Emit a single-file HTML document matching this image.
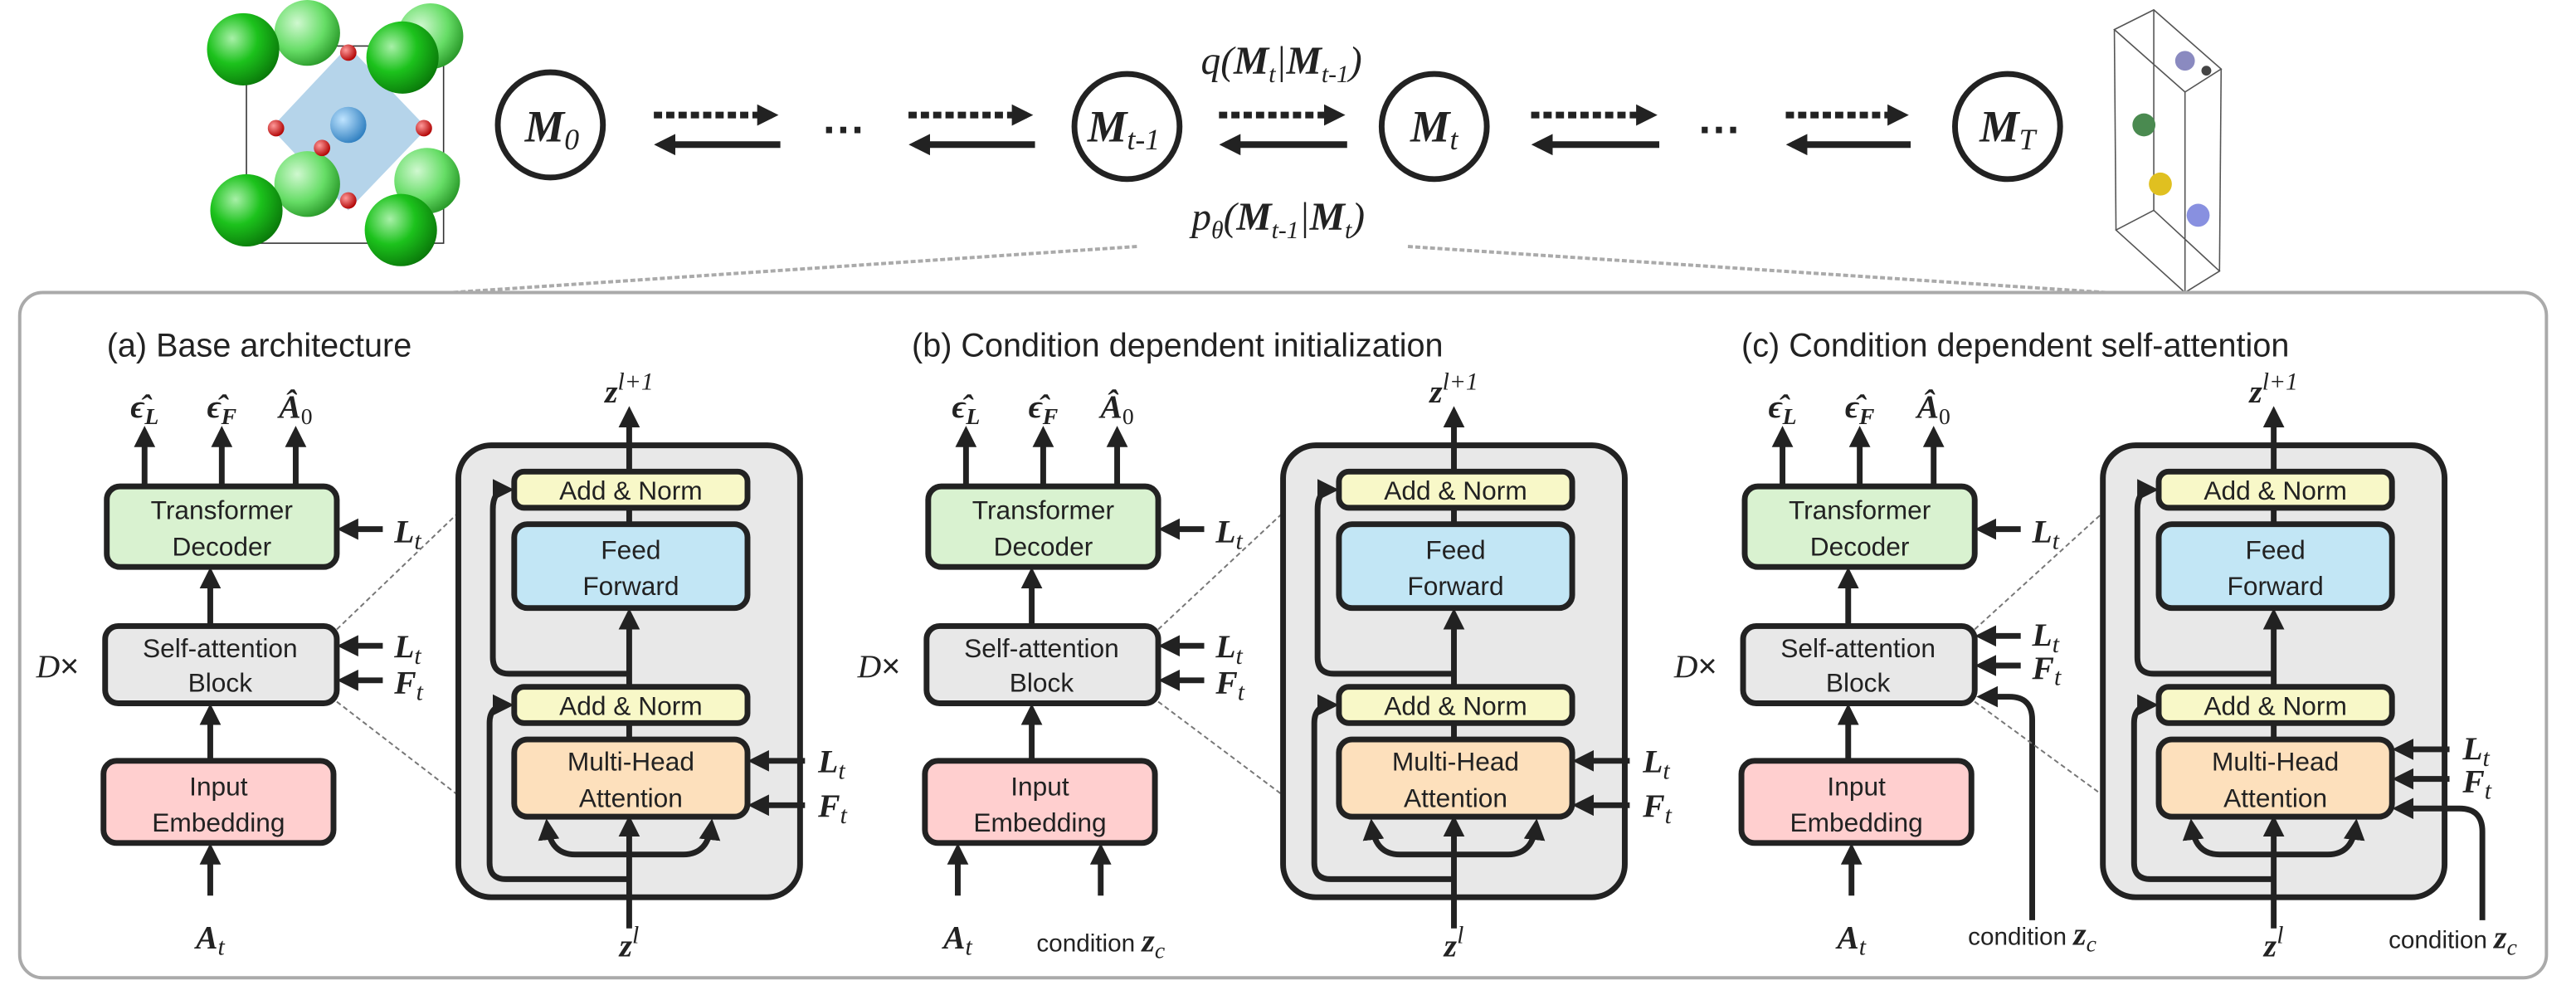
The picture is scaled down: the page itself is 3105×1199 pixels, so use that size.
<!DOCTYPE html>
<html><head><meta charset="utf-8"><style>
html,body{margin:0;padding:0;background:#fff}
svg{display:block}
.s{font-family:"Liberation Sans",sans-serif;fill:#222}
.m{font-family:"Liberation Serif",serif;font-style:italic;fill:#222}
.b{font-weight:bold}
</style></head><body>
<svg width="3105" height="1199" viewBox="0 0 1568 605.5" preserveAspectRatio="none" xmlns="http://www.w3.org/2000/svg">
<defs>
<marker id="ah" viewBox="0 0 10 10" refX="7" refY="5" markerWidth="13" markerHeight="13" markerUnits="userSpaceOnUse" orient="auto"><path d="M0,0 L10,5 L0,10 z" fill="#222"/></marker>
<radialGradient id="g1" cx="0.35" cy="0.35" r="0.7"><stop offset="0" stop-color="#a8f0a8"/><stop offset="0.5" stop-color="#1cc21c"/><stop offset="1" stop-color="#0a7a0a"/></radialGradient>
<radialGradient id="g2" cx="0.35" cy="0.35" r="0.7"><stop offset="0" stop-color="#d0f8d0"/><stop offset="0.6" stop-color="#66dd66"/><stop offset="1" stop-color="#2a9a2a"/></radialGradient>
<radialGradient id="gr" cx="0.35" cy="0.35" r="0.7"><stop offset="0" stop-color="#ff9a9a"/><stop offset="1" stop-color="#b00000"/></radialGradient>
<radialGradient id="gb" cx="0.35" cy="0.35" r="0.7"><stop offset="0" stop-color="#bfe4ff"/><stop offset="1" stop-color="#2f7fc0"/></radialGradient>
</defs>

<!-- left crystal -->
<g>
<rect x="150" y="28" width="120" height="120" fill="none" stroke="#333" stroke-width="0.8"/>
<polygon points="212,28 260,78 212,128 165,78" fill="#5a9fd0" fill-opacity="0.45"/>
<circle cx="187" cy="20" r="20" fill="url(#g2)"/><circle cx="262" cy="22" r="20" fill="url(#g2)"/>
<circle cx="187" cy="112" r="20" fill="url(#g2)"/><circle cx="260" cy="110" r="20" fill="url(#g2)"/>
<circle cx="212" cy="76" r="11" fill="url(#gb)"/>
<circle cx="212" cy="32" r="5" fill="url(#gr)"/><circle cx="212" cy="122" r="5" fill="url(#gr)"/>
<circle cx="168" cy="78" r="5" fill="url(#gr)"/><circle cx="258" cy="78" r="5" fill="url(#gr)"/>
<circle cx="196" cy="90" r="5" fill="url(#gr)"/>
<circle cx="148" cy="30" r="22" fill="url(#g1)"/><circle cx="245" cy="35" r="22" fill="url(#g1)"/>
<circle cx="150" cy="128" r="22" fill="url(#g1)"/><circle cx="244" cy="140" r="22" fill="url(#g1)"/>
</g>
<!-- right crystal -->
<g fill="none" stroke="#555" stroke-width="0.8">
<polygon points="1287,18 1311,6 1352,42 1330,56"/>
<line x1="1287" y1="18" x2="1288" y2="140"/><line x1="1311" y1="6" x2="1311" y2="128"/>
<line x1="1352" y1="42" x2="1351" y2="165"/><line x1="1330" y1="56" x2="1330" y2="178"/>
<polygon points="1288,140 1311,128 1351,165 1330,178"/>
</g>
<circle cx="1330" cy="37" r="6" fill="#8a8ac0"/><circle cx="1343" cy="43" r="3" fill="#444"/>
<circle cx="1305" cy="76" r="7" fill="#4a8a50"/><circle cx="1315" cy="112" r="7" fill="#e0c020"/>
<circle cx="1338" cy="131" r="7" fill="#8890e0"/>

<!-- top chain -->
<g fill="none" stroke="#222" stroke-width="3.5">
<circle cx="335" cy="76" r="32"/><circle cx="686" cy="77" r="32"/><circle cx="873" cy="77" r="32"/><circle cx="1222" cy="77" r="32"/>
</g>
<g stroke="#222" stroke-width="4" marker-end="url(#ah)">
<line x1="398" y1="70" x2="470" y2="70" stroke-dasharray="5,2.5"/><line x1="475" y1="88" x2="402" y2="88"/>
<line x1="553" y1="70" x2="625" y2="70" stroke-dasharray="5,2.5"/><line x1="630" y1="88" x2="557" y2="88"/>
<line x1="742" y1="70" x2="815" y2="70" stroke-dasharray="5,2.5"/><line x1="820" y1="88" x2="746" y2="88"/>
<line x1="932" y1="70" x2="1005" y2="70" stroke-dasharray="5,2.5"/><line x1="1010" y1="88" x2="936" y2="88"/>
<line x1="1087" y1="70" x2="1158" y2="70" stroke-dasharray="5,2.5"/><line x1="1163" y1="88" x2="1091" y2="88"/>
</g>
<text x="514" y="88" class="s" font-size="26" font-weight="bold" text-anchor="middle">···</text>
<text x="1047" y="88" class="s" font-size="26" font-weight="bold" text-anchor="middle">···</text>
<text x="336" y="86" class="m b" font-size="27" text-anchor="middle">M<tspan font-size="18" font-weight="normal" dy="5">0</tspan></text>
<text x="684" y="86" class="m b" font-size="27" text-anchor="middle">M<tspan font-size="18" font-weight="normal" dy="5">t-1</tspan></text>
<text x="873" y="86" class="m b" font-size="27" text-anchor="middle">M<tspan font-size="18" font-weight="normal" dy="5">t</tspan></text>
<text x="1222" y="86" class="m b" font-size="27" text-anchor="middle">M<tspan font-size="18" font-weight="normal" dy="5">T</tspan></text>
<text x="780" y="45" class="m" font-size="24" text-anchor="middle">q(<tspan font-weight="bold">M</tspan><tspan font-size="15" dy="5">t</tspan><tspan dy="-5">|</tspan><tspan font-weight="bold">M</tspan><tspan font-size="15" dy="5">t-1</tspan><tspan dy="-5">)</tspan></text>
<text x="778" y="140" class="m" font-size="24" text-anchor="middle">p<tspan font-size="15" dy="5">θ</tspan><tspan dy="-5">(</tspan><tspan font-weight="bold">M</tspan><tspan font-size="15" dy="5">t-1</tspan><tspan dy="-5">|</tspan><tspan font-weight="bold">M</tspan><tspan font-size="15" dy="5">t</tspan><tspan dy="-5">)</tspan></text>
<g stroke="#aaa" stroke-width="2" stroke-dasharray="3,1.5">
<line x1="692" y1="150" x2="275" y2="178"/><line x1="857" y1="150" x2="1282" y2="178"/>
</g>

<!-- outer box -->
<rect x="12" y="178" width="1538" height="417" rx="14" fill="#fff" stroke="#aaa" stroke-width="2"/>

<!-- ============ PANEL A ============ -->
<g>
<text x="65" y="217" class="s" font-size="20">(a) Base architecture</text>
<g stroke="#222" stroke-width="3.5" marker-end="url(#ah)">
<line x1="88" y1="296" x2="88" y2="263"/><line x1="135" y1="296" x2="135" y2="263"/><line x1="180" y1="296" x2="180" y2="263"/>
<line x1="233" y1="322" x2="209" y2="322"/><line x1="128" y1="381" x2="128" y2="349"/>
<line x1="233" y1="393" x2="209" y2="393"/><line x1="233" y1="414" x2="209" y2="414"/>
<line x1="128" y1="463" x2="128" y2="432"/><line x1="128" y1="545" x2="128" y2="517"/>
</g>
<rect x="65" y="296" width="140" height="49" rx="8" fill="#d9f2d0" stroke="#222" stroke-width="3.5"/>
<rect x="64" y="381" width="141" height="47" rx="8" fill="#e8e8e8" stroke="#222" stroke-width="3.5"/>
<rect x="63" y="463" width="140" height="50" rx="8" fill="#ffcfcf" stroke="#222" stroke-width="3.5"/>
<g class="s" font-size="16" text-anchor="middle">
<text x="135" y="316">Transformer</text><text x="135" y="338">Decoder</text>
<text x="134" y="400">Self-attention</text><text x="134" y="421">Block</text>
<text x="133" y="484">Input</text><text x="133" y="506">Embedding</text>
</g>
<g class="m" font-size="20">
<text x="88" y="254" text-anchor="middle" font-weight="bold">ϵ̂<tspan font-size="14" dy="4">L</tspan></text>
<text x="135" y="254" text-anchor="middle" font-weight="bold">ϵ̂<tspan font-size="14" dy="4">F</tspan></text>
<text x="180" y="254" text-anchor="middle" font-weight="bold">Â<tspan font-size="14" font-weight="normal" font-style="normal" dy="4">0</tspan></text>
<text x="240" y="330" font-weight="bold">L<tspan font-size="15" font-weight="normal" dy="4">t</tspan></text>
<text x="240" y="400" font-weight="bold">L<tspan font-size="15" font-weight="normal" dy="4">t</tspan></text>
<text x="240" y="422" font-weight="bold">F<tspan font-size="15" font-weight="normal" dy="4">t</tspan></text>
<text x="128" y="577" text-anchor="middle" font-weight="bold">A<tspan font-size="15" font-weight="normal" dy="4">t</tspan></text>
<text x="22" y="412">D<tspan font-style="normal" font-family="Liberation Sans">×</tspan></text>
</g>
<g stroke="#777" stroke-width="1" stroke-dasharray="3,2"><line x1="205" y1="383" x2="279" y2="312"/><line x1="205" y1="427" x2="279" y2="484"/></g>
<rect x="279" y="271" width="208" height="275" rx="20" fill="#e8e8e8" stroke="#222" stroke-width="3.5"/>
<g stroke="#222" stroke-width="3.5" fill="none">
<line x1="383" y1="565" x2="383" y2="500" marker-end="url(#ah)"/>
<line x1="383" y1="450" x2="383" y2="440"/>
<line x1="383" y1="418" x2="383" y2="374" marker-end="url(#ah)"/>
<line x1="383" y1="319" x2="383" y2="309"/>
<line x1="383" y1="287" x2="383" y2="251" marker-end="url(#ah)"/>
<path d="M383,410 H310 Q300,410 300,400 V310 Q300,298 309,298" marker-end="url(#ah)"/>
<path d="M383,535 H308 Q298,535 298,525 V440 Q298,429 309,429" marker-end="url(#ah)"/>
<path d="M383,520 H350 Q335,520 333,502" marker-end="url(#ah)"/>
<path d="M383,520 H416 Q431,520 433,502" marker-end="url(#ah)"/>
<line x1="490" y1="463" x2="459" y2="463" marker-end="url(#ah)"/>
<line x1="490" y1="490" x2="459" y2="490" marker-end="url(#ah)"/>
</g>
<rect x="313" y="287" width="142" height="22" rx="6" fill="#f8f8c8" stroke="#222" stroke-width="3.5"/>
<rect x="313" y="319" width="142" height="51" rx="8" fill="#c2e6f5" stroke="#222" stroke-width="3.5"/>
<rect x="313" y="418" width="142" height="22" rx="6" fill="#f8f8c8" stroke="#222" stroke-width="3.5"/>
<rect x="313" y="450" width="142" height="47" rx="8" fill="#fde0bc" stroke="#222" stroke-width="3.5"/>
<g class="s" font-size="16" text-anchor="middle">
<text x="384" y="304">Add &amp; Norm</text><text x="384" y="340">Feed</text><text x="384" y="362">Forward</text>
<text x="384" y="435">Add &amp; Norm</text><text x="384" y="469">Multi-Head</text><text x="384" y="491">Attention</text>
</g>
<g class="m" font-size="20">
<text x="383" y="245" text-anchor="middle" font-weight="bold">z<tspan font-size="15" font-weight="normal" dy="-8">l+1</tspan></text>
<text x="383" y="582" text-anchor="middle" font-weight="bold">z<tspan font-size="15" font-weight="normal" dy="-8">l</tspan></text>
<text x="498" y="470" font-weight="bold">L<tspan font-size="15" font-weight="normal" dy="4">t</tspan></text>
<text x="498" y="497" font-weight="bold">F<tspan font-size="15" font-weight="normal" dy="4">t</tspan></text>
</g>
</g>

<!-- ============ PANEL B ============ -->
<g transform="translate(500,0)">
<text x="55" y="217" class="s" font-size="20">(b) Condition dependent initialization</text>
<g stroke="#222" stroke-width="3.5" marker-end="url(#ah)">
<line x1="88" y1="296" x2="88" y2="263"/><line x1="135" y1="296" x2="135" y2="263"/><line x1="180" y1="296" x2="180" y2="263"/>
<line x1="233" y1="322" x2="209" y2="322"/><line x1="128" y1="381" x2="128" y2="349"/>
<line x1="233" y1="393" x2="209" y2="393"/><line x1="233" y1="414" x2="209" y2="414"/>
<line x1="128" y1="463" x2="128" y2="432"/>
<line x1="83" y1="545" x2="83" y2="517"/><line x1="170" y1="545" x2="170" y2="517"/>
</g>
<rect x="65" y="296" width="140" height="49" rx="8" fill="#d9f2d0" stroke="#222" stroke-width="3.5"/>
<rect x="64" y="381" width="141" height="47" rx="8" fill="#e8e8e8" stroke="#222" stroke-width="3.5"/>
<rect x="63" y="463" width="140" height="50" rx="8" fill="#ffcfcf" stroke="#222" stroke-width="3.5"/>
<g class="s" font-size="16" text-anchor="middle">
<text x="135" y="316">Transformer</text><text x="135" y="338">Decoder</text>
<text x="134" y="400">Self-attention</text><text x="134" y="421">Block</text>
<text x="133" y="484">Input</text><text x="133" y="506">Embedding</text>
<text x="170" y="579" font-size="15">condition <tspan class="m b" font-size="20">z</tspan><tspan class="m" font-size="14" dy="4">c</tspan></text>
</g>
<g class="m" font-size="20">
<text x="88" y="254" text-anchor="middle" font-weight="bold">ϵ̂<tspan font-size="14" dy="4">L</tspan></text>
<text x="135" y="254" text-anchor="middle" font-weight="bold">ϵ̂<tspan font-size="14" dy="4">F</tspan></text>
<text x="180" y="254" text-anchor="middle" font-weight="bold">Â<tspan font-size="14" font-weight="normal" font-style="normal" dy="4">0</tspan></text>
<text x="240" y="330" font-weight="bold">L<tspan font-size="15" font-weight="normal" dy="4">t</tspan></text>
<text x="240" y="400" font-weight="bold">L<tspan font-size="15" font-weight="normal" dy="4">t</tspan></text>
<text x="240" y="422" font-weight="bold">F<tspan font-size="15" font-weight="normal" dy="4">t</tspan></text>
<text x="83" y="577" text-anchor="middle" font-weight="bold">A<tspan font-size="15" font-weight="normal" dy="4">t</tspan></text>
<text x="22" y="412">D<tspan font-style="normal" font-family="Liberation Sans">×</tspan></text>
</g>
<g stroke="#777" stroke-width="1" stroke-dasharray="3,2"><line x1="205" y1="383" x2="281" y2="312"/><line x1="205" y1="427" x2="281" y2="484"/></g>
<rect x="281" y="271" width="208" height="275" rx="20" fill="#e8e8e8" stroke="#222" stroke-width="3.5"/>
<g transform="translate(2,0)">
<g stroke="#222" stroke-width="3.5" fill="none">
<line x1="383" y1="565" x2="383" y2="500" marker-end="url(#ah)"/>
<line x1="383" y1="450" x2="383" y2="440"/>
<line x1="383" y1="418" x2="383" y2="374" marker-end="url(#ah)"/>
<line x1="383" y1="319" x2="383" y2="309"/>
<line x1="383" y1="287" x2="383" y2="251" marker-end="url(#ah)"/>
<path d="M383,410 H310 Q300,410 300,400 V310 Q300,298 309,298" marker-end="url(#ah)"/>
<path d="M383,535 H308 Q298,535 298,525 V440 Q298,429 309,429" marker-end="url(#ah)"/>
<path d="M383,520 H350 Q335,520 333,502" marker-end="url(#ah)"/>
<path d="M383,520 H416 Q431,520 433,502" marker-end="url(#ah)"/>
<line x1="490" y1="463" x2="459" y2="463" marker-end="url(#ah)"/>
<line x1="490" y1="490" x2="459" y2="490" marker-end="url(#ah)"/>
</g>
<rect x="313" y="287" width="142" height="22" rx="6" fill="#f8f8c8" stroke="#222" stroke-width="3.5"/>
<rect x="313" y="319" width="142" height="51" rx="8" fill="#c2e6f5" stroke="#222" stroke-width="3.5"/>
<rect x="313" y="418" width="142" height="22" rx="6" fill="#f8f8c8" stroke="#222" stroke-width="3.5"/>
<rect x="313" y="450" width="142" height="47" rx="8" fill="#fde0bc" stroke="#222" stroke-width="3.5"/>
<g class="s" font-size="16" text-anchor="middle">
<text x="384" y="304">Add &amp; Norm</text><text x="384" y="340">Feed</text><text x="384" y="362">Forward</text>
<text x="384" y="435">Add &amp; Norm</text><text x="384" y="469">Multi-Head</text><text x="384" y="491">Attention</text>
</g>
<g class="m" font-size="20">
<text x="383" y="245" text-anchor="middle" font-weight="bold">z<tspan font-size="15" font-weight="normal" dy="-8">l+1</tspan></text>
<text x="383" y="582" text-anchor="middle" font-weight="bold">z<tspan font-size="15" font-weight="normal" dy="-8">l</tspan></text>
<text x="498" y="470" font-weight="bold">L<tspan font-size="15" font-weight="normal" dy="4">t</tspan></text>
<text x="498" y="497" font-weight="bold">F<tspan font-size="15" font-weight="normal" dy="4">t</tspan></text>
</g>
</g>
</g>

<!-- ============ PANEL C ============ -->
<g transform="translate(997,0)">
<text x="63" y="217" class="s" font-size="20">(c) Condition dependent self-attention</text>
<g stroke="#222" stroke-width="3.5" fill="none">
<g marker-end="url(#ah)">
<line x1="88" y1="296" x2="88" y2="263"/><line x1="135" y1="296" x2="135" y2="263"/><line x1="180" y1="296" x2="180" y2="263"/>
<line x1="233" y1="322" x2="209" y2="322"/><line x1="128" y1="381" x2="128" y2="349"/>
<line x1="233" y1="387" x2="209" y2="387"/><line x1="233" y1="405" x2="209" y2="405"/>
<path d="M240,560 V438 Q240,424 226,424 H210"/>
<line x1="128" y1="463" x2="128" y2="432"/><line x1="130" y1="545" x2="130" y2="517"/>
</g>
</g>
<rect x="65" y="296" width="140" height="49" rx="8" fill="#d9f2d0" stroke="#222" stroke-width="3.5"/>
<rect x="64" y="381" width="141" height="47" rx="8" fill="#e8e8e8" stroke="#222" stroke-width="3.5"/>
<rect x="63" y="463" width="140" height="50" rx="8" fill="#ffcfcf" stroke="#222" stroke-width="3.5"/>
<g class="s" font-size="16" text-anchor="middle">
<text x="135" y="316">Transformer</text><text x="135" y="338">Decoder</text>
<text x="134" y="400">Self-attention</text><text x="134" y="421">Block</text>
<text x="133" y="484">Input</text><text x="133" y="506">Embedding</text>
<text x="240" y="575" font-size="15">condition <tspan class="m b" font-size="20">z</tspan><tspan class="m" font-size="14" dy="4">c</tspan></text>
</g>
<g class="m" font-size="20">
<text x="88" y="254" text-anchor="middle" font-weight="bold">ϵ̂<tspan font-size="14" dy="4">L</tspan></text>
<text x="135" y="254" text-anchor="middle" font-weight="bold">ϵ̂<tspan font-size="14" dy="4">F</tspan></text>
<text x="180" y="254" text-anchor="middle" font-weight="bold">Â<tspan font-size="14" font-weight="normal" font-style="normal" dy="4">0</tspan></text>
<text x="240" y="330" font-weight="bold">L<tspan font-size="15" font-weight="normal" dy="4">t</tspan></text>
<text x="240" y="393" font-weight="bold">L<tspan font-size="15" font-weight="normal" dy="4">t</tspan></text>
<text x="240" y="413" font-weight="bold">F<tspan font-size="15" font-weight="normal" dy="4">t</tspan></text>
<text x="130" y="577" text-anchor="middle" font-weight="bold">A<tspan font-size="15" font-weight="normal" dy="4">t</tspan></text>
<text x="22" y="412">D<tspan font-style="normal" font-family="Liberation Sans">×</tspan></text>
</g>
<g stroke="#777" stroke-width="1" stroke-dasharray="3,2"><line x1="205" y1="383" x2="283" y2="312"/><line x1="205" y1="427" x2="283" y2="484"/></g>
<rect x="283" y="271" width="208" height="275" rx="20" fill="#e8e8e8" stroke="#222" stroke-width="3.5"/>
<g transform="translate(4,0)">
<g stroke="#222" stroke-width="3.5" fill="none">
<line x1="383" y1="565" x2="383" y2="500" marker-end="url(#ah)"/>
<line x1="383" y1="450" x2="383" y2="440"/>
<line x1="383" y1="418" x2="383" y2="374" marker-end="url(#ah)"/>
<line x1="383" y1="319" x2="383" y2="309"/>
<line x1="383" y1="287" x2="383" y2="251" marker-end="url(#ah)"/>
<path d="M383,410 H310 Q300,410 300,400 V310 Q300,298 309,298" marker-end="url(#ah)"/>
<path d="M383,535 H308 Q298,535 298,525 V440 Q298,429 309,429" marker-end="url(#ah)"/>
<path d="M383,520 H350 Q335,520 333,502" marker-end="url(#ah)"/>
<path d="M383,520 H416 Q431,520 433,502" marker-end="url(#ah)"/>
<line x1="490" y1="456" x2="459" y2="456" marker-end="url(#ah)"/>
<line x1="490" y1="474" x2="459" y2="474" marker-end="url(#ah)"/>
<path d="M510,560 V506 Q510,492 496,492 H459" marker-end="url(#ah)"/>
</g>
<rect x="313" y="287" width="142" height="22" rx="6" fill="#f8f8c8" stroke="#222" stroke-width="3.5"/>
<rect x="313" y="319" width="142" height="51" rx="8" fill="#c2e6f5" stroke="#222" stroke-width="3.5"/>
<rect x="313" y="418" width="142" height="22" rx="6" fill="#f8f8c8" stroke="#222" stroke-width="3.5"/>
<rect x="313" y="450" width="142" height="47" rx="8" fill="#fde0bc" stroke="#222" stroke-width="3.5"/>
<g class="s" font-size="16" text-anchor="middle">
<text x="384" y="304">Add &amp; Norm</text><text x="384" y="340">Feed</text><text x="384" y="362">Forward</text>
<text x="384" y="435">Add &amp; Norm</text><text x="384" y="469">Multi-Head</text><text x="384" y="491">Attention</text>
<text x="492" y="577" font-size="15">condition <tspan class="m b" font-size="20">z</tspan><tspan class="m" font-size="14" dy="4">c</tspan></text>
</g>
<g class="m" font-size="20">
<text x="383" y="245" text-anchor="middle" font-weight="bold">z<tspan font-size="15" font-weight="normal" dy="-8">l+1</tspan></text>
<text x="383" y="582" text-anchor="middle" font-weight="bold">z<tspan font-size="15" font-weight="normal" dy="-8">l</tspan></text>
<text x="498" y="462" font-weight="bold">L<tspan font-size="15" font-weight="normal" dy="4">t</tspan></text>
<text x="498" y="482" font-weight="bold">F<tspan font-size="15" font-weight="normal" dy="4">t</tspan></text>
</g>
</g>
</g>
</svg>
</body></html>
